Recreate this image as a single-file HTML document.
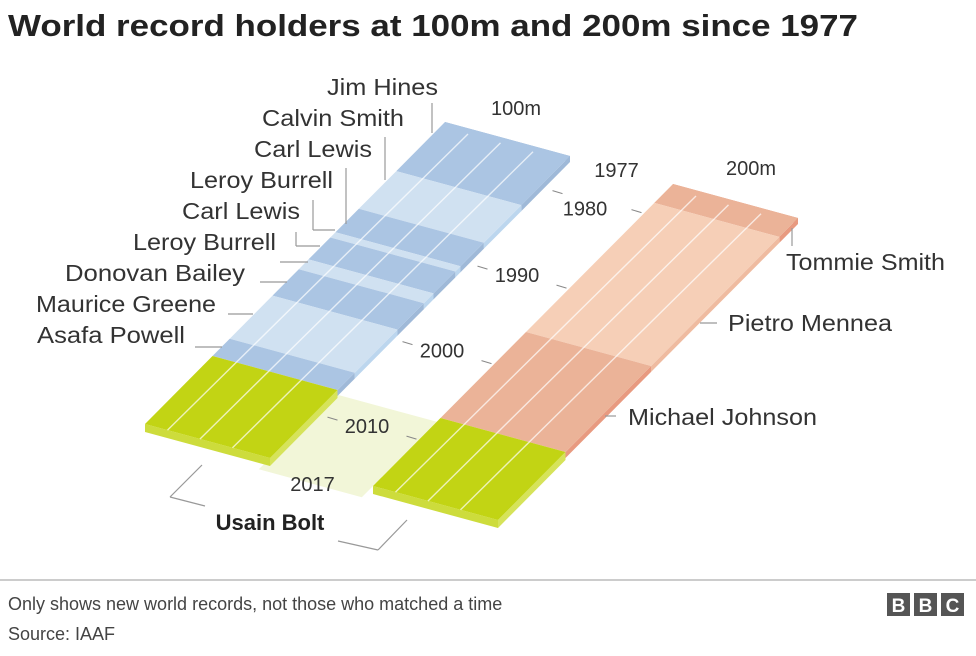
<!DOCTYPE html>
<html><head><meta charset="utf-8">
<style>
html,body{margin:0;padding:0;background:#fff;}
svg{display:block;font-family:"Liberation Sans",Arial,sans-serif;}
</style></head>
<body>
<svg id="chart" width="976" height="656" viewBox="0 0 976 656" xmlns="http://www.w3.org/2000/svg">
  <text x="8" y="36" font-size="31" font-weight="bold" fill="#222" textLength="850" lengthAdjust="spacingAndGlyphs">World record holders at 100m and 200m since 1977</text>
  <g id="floor"></g>
  <g id="tracks"></g>
  <g id="ticks"></g>
  <g id="labels" font-size="23" fill="#333"></g>
  <text x="516" y="115" font-size="20" fill="#333" text-anchor="middle">100m</text>
  <text x="751" y="175" font-size="20" fill="#333" text-anchor="middle">200m</text>
  <line x1="0" y1="580" x2="976" y2="580" stroke="#999" stroke-width="1"/>
  <text x="8" y="610" font-size="18" fill="#444">Only shows new world records, not those who matched a time</text>
  <text x="8" y="640" font-size="18" fill="#444">Source: IAAF</text>
  <g>
    <rect x="887" y="593" width="23" height="23" fill="#555"/>
    <rect x="914" y="593" width="23" height="23" fill="#555"/>
    <rect x="941" y="593" width="23" height="23" fill="#555"/>
    <text x="898.5" y="612" font-size="19" font-weight="bold" fill="#fff" text-anchor="middle">B</text>
    <text x="925.5" y="612" font-size="19" font-weight="bold" fill="#fff" text-anchor="middle">B</text>
    <text x="952.5" y="612" font-size="19" font-weight="bold" fill="#fff" text-anchor="middle">C</text>
  </g>
</svg>
<script>
// ---- data ----
const startYear = 1977;
const endYear = 2017;
const years100 = [1977, 1983.5, 1988.5, 1991.6, 1992.3, 1995.2, 1996.5, 2000, 2005.7, 2008];
const holders100 = ["Jim Hines","Calvin Smith","Carl Lewis","Leroy Burrell","Carl Lewis","Leroy Burrell","Donovan Bailey","Maurice Greene","Asafa Powell","Usain Bolt"];
const years200 = [1977, 1979.5, 1996.6, 2008];
const holders200 = ["Tommie Smith","Pietro Mennea","Michael Johnson","Usain Bolt"];
const tickYears = [1977, 1980, 1990, 2000, 2010, 2017];
const tickLabels = ["1977","1980","1990","2000","2010","2017"];

// ---- projection ----
const NS = "http://www.w3.org/2000/svg";
const O100 = [445,122], O200 = [673,184];
const YX = -7.5, YY = 7.55, WX = 125, WY = 34;
function P(o, yr, w){ const t = yr - startYear; return [o[0] + t*YX + w*WX, o[1] + t*YY + w*WY]; }
function poly(parent, pts, fill, name){
  const p = document.createElementNS(NS,'polygon');
  p.setAttribute('points', pts.map(q=>q[0].toFixed(1)+','+q[1].toFixed(1)).join(' '));
  p.setAttribute('fill', fill);
  
  
  parent.appendChild(p); return p;
}
function line(parent, a, b, stroke, sw, name){
  const l = document.createElementNS(NS,'line');
  l.setAttribute('x1',a[0]); l.setAttribute('y1',a[1]); l.setAttribute('x2',b[0]); l.setAttribute('y2',b[1]);
  l.setAttribute('stroke',stroke); l.setAttribute('stroke-width',sw);
  
  
  parent.appendChild(l); return l;
}
const floorG = document.getElementById('floor');
const tracksG = document.getElementById('tracks');
const ticksG = document.getElementById('ticks');
const labelsG = document.getElementById('labels');

const boltYear = years100[years100.length-1];
poly(floorG, [P(O100,boltYear+0.5,1), P(O200,boltYear+0.5,0), P(O200,endYear+1.5,0), P(O100,endYear+1.5,1)], '#f2f6d8', 'bolt-era-floor');

function drawTrack(o, years, holders, colors, sides, tag){
  const TH = 6;
  for(let i=0;i<years.length;i++){
    const a = years[i], b = (i+1<years.length)? years[i+1] : endYear;
    const isBolt = holders[i]==="Usain Bolt";
    const h = isBolt ? 8 : TH;
    const c = isBolt ? '#c2d414' : colors[i%2];
    const sc = isBolt ? '#d6e35a' : sides[i%2];
    const r1 = P(o,a,1), r2 = P(o,b,1);
    poly(tracksG, [r1, r2, [r2[0],r2[1]+h], [r1[0],r1[1]+h]], sc, tag+'-side-'+i);
    if(i===0){ const l1=P(o,a,0); poly(tracksG,[l1,r1,[r1[0],r1[1]+h],[l1[0],l1[1]+h]], sc, tag+'-end-face'); }
    if(isBolt){ const f1=P(o,b,0), f2=P(o,b,1); poly(tracksG,[f1,f2,[f2[0],f2[1]+h],[f1[0],f1[1]+h]],'#cddc3c', tag+'-bolt-front'); }
    poly(tracksG, [P(o,a,0), P(o,a,1), P(o,b,1), P(o,b,0)], c, tag+'-band-'+i);
  }
  [0.22,0.48,0.74].forEach((w,k)=>{
    line(tracksG, P(o,startYear+0.6,w), P(o,endYear,w-0.04), 'rgba(255,255,255,0.7)', 1.4, tag+'-lane-line-'+k);
  });
}
drawTrack(O100, years100, holders100, ['#abc5e3','#d0e1f1'], ['#9fb9d8','#bcd6ee'], 'track-100m');
drawTrack(O200, years200, holders200, ['#ebb398','#f6cfb7'], ['#e89a80','#efbba0'], 'track-200m');

// year ticks
tickYears.forEach((y,i)=>{
  const a = P(O100,y,1), b = P(O200,y,0);
  const mx=(a[0]+b[0])/2, my=(a[1]+b[1])/2;
  if(y!==startYear && y!==endYear){
    line(ticksG, [a[0]+5, a[1]+12], [a[0]+15, a[1]+15], '#888', 1, 'tick-left-'+y);
    line(ticksG, [b[0]-19, b[1]+3], [b[0]-9, b[1]+6], '#888', 1, 'tick-right-'+y);
  }
  let lx = mx-7, ly = my+14;
  if(y===startYear){ lx += 2; ly -= 7; }
  if(y===1980){ lx -= 7; ly += 9; }
  if(y===endYear){ lx -= 2; ly += 5; }
  const t = document.createElementNS(NS,'text');
  t.setAttribute('x', lx); t.setAttribute('y', ly);
  t.setAttribute('font-size','20'); t.setAttribute('fill','#333'); t.setAttribute('text-anchor','middle');
  t.textContent = tickLabels[i];
  
  
  ticksG.appendChild(t);
});

const labelSpecs = [
  ["Jim Hines",438,95,"end",111],["Calvin Smith",404,126,"end",142],["Carl Lewis",372,157,"end",118],
  ["Leroy Burrell",333,188,"end",143],["Carl Lewis",300,219,"end",118],["Leroy Burrell",276,250,"end",143],
  ["Donovan Bailey",245,281,"end",180],["Maurice Greene",216,312,"end",180],["Asafa Powell",185,343,"end",148],
  ["Tommie Smith",786,270,"start",159],["Pietro Mennea",728,331,"start",164],["Michael Johnson",628,425,"start",189]
];
labelSpecs.forEach((s,i)=>{
  const t = document.createElementNS(NS,'text');
  const x = s[3]==="end" ? s[1]-s[4] : s[1];
  t.setAttribute('x', x); t.setAttribute('y', s[2]);
  t.setAttribute('textLength', s[4]); t.setAttribute('lengthAdjust','spacingAndGlyphs');
  t.textContent = s[0];
  
  
  labelsG.appendChild(t);
});
const bolt = document.createElementNS(NS,'text');
bolt.setAttribute('x',270); bolt.setAttribute('y',530); bolt.setAttribute('text-anchor','middle');
bolt.setAttribute('font-weight','bold'); bolt.setAttribute('fill','#222'); bolt.setAttribute('font-size','22');
bolt.textContent = "Usain Bolt";


labelsG.appendChild(bolt);

const leaders = [
  [[432,103],[432,133]], [[385,137],[385,180]], [[346,168],[346,224]],
  [[313,200],[313,230]], [[313,230],[335,230]], [[296,232],[296,246]], [[296,246],[320,246]],
  [[280,262],[308,262]], [[260,282],[287,282]], [[228,314],[253,314]], [[195,347],[222,347]],
  [[792,228],[792,246]], [[700,323],[717,323]], [[605,416],[616,416]],
  [[202,465],[170,497]], [[170,497],[205,506]], [[407,520],[378,550]], [[378,550],[338,541]]
];
leaders.forEach((l,i)=>{ line(labelsG, l[0], l[1], '#999', 1.2, 'leader-line-'+i); });
</script>
</body></html>
